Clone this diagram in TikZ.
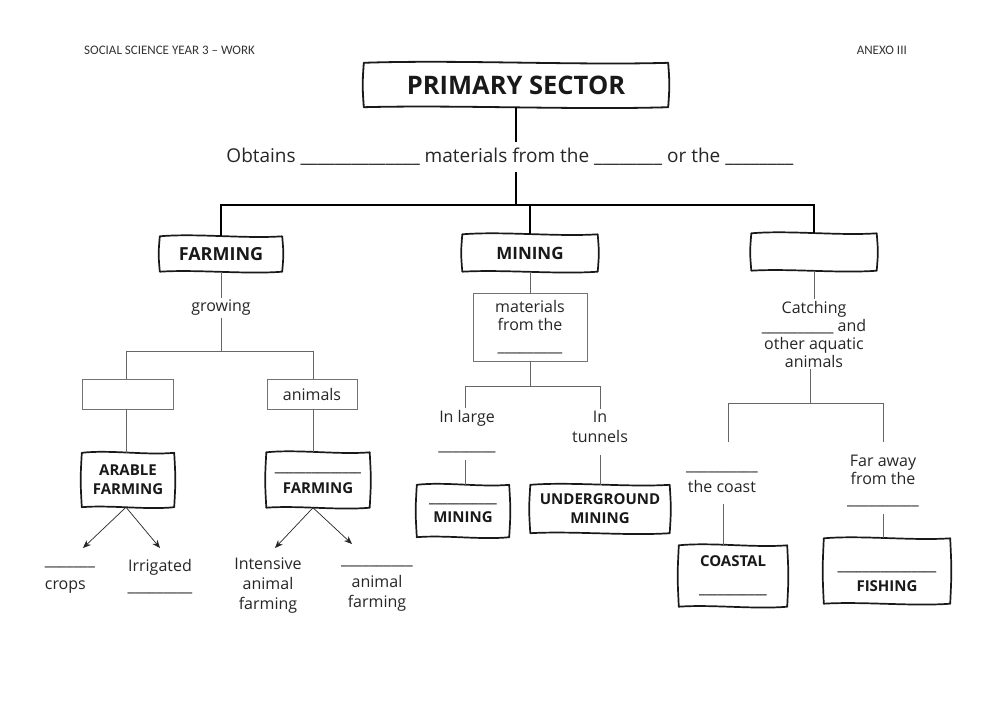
\documentclass[tikz,border=0pt]{standalone}
\usepackage{fontspec}
\setmainfont{Open Sans}
\newfontfamily\hdrfont{Carlito}
\usetikzlibrary{calc,arrows.meta}
\newcommand\ub[1]{\ifnum#1>0 \_\expandafter\ub\expandafter{\the\numexpr#1-1\relax}\fi}
\newcommand\wavy[2][1.7pt]{%
  \draw[line width=#1, draw=black!90, line join=round]
  (#2.north west) .. controls ($(#2.north west)!0.3!(#2.north east)+(0,-3.2)$) and ($(#2.north west)!0.7!(#2.north east)+(0,2.6)$) .. (#2.north east)
  .. controls ($(#2.north east)!0.5!(#2.south east)+(1.5,0)$) .. (#2.south east)
  .. controls ($(#2.south east)!0.3!(#2.south west)+(0,2.8)$) and ($(#2.south east)!0.7!(#2.south west)+(0,-2.4)$) .. (#2.south west)
  .. controls ($(#2.south west)!0.5!(#2.north west)+(-1.5,0)$) .. cycle;}
\begin{document}
\begin{tikzpicture}[x=1pt,y=-1pt,
  txt/.style={font=\fontsize{16}{20}\selectfont, text=black!85, align=center, inner sep=2pt},
  lbl/.style={font=\bfseries\fontsize{15}{19}\selectfont, text=black!90, align=center},
  biglbl/.style={font=\bfseries\fontsize{18}{21}\selectfont, text=black!90, align=center},
  hdr/.style={font=\hdrfont\fontsize{13}{15}\selectfont, text=black!80, inner sep=0pt},
  tbox/.style={draw=black!55, line width=0.9pt},
  mainln/.style={draw=black, line width=2.6pt},
  dropln/.style={draw=black, line width=1.8pt},
  thinln/.style={draw=black!60, line width=0.9pt},
  arr/.style={draw=black!85, line width=0.7pt, -{Stealth[length=8pt,width=6.5pt]}},
]
\fill[white] (0,0) rectangle (1000,707);
\useasboundingbox (0,0) rectangle (1000,707);

% header
\node[hdr, anchor=west] (hdrl) at (84,50) {SOCIAL SCIENCE YEAR 3 – WORK};
\node[hdr, anchor=east] (hdrr) at (907,50) {ANEXO III};

% top
\node[minimum width=304pt, minimum height=44pt,
      font=\bfseries\fontsize{25.5}{30}\selectfont, text=black!90] (primary) at (516,85) {PRIMARY SECTOR};
\wavy[1.8pt]{primary}
\node[txt, font=\fontsize{19}{22}\selectfont, inner ysep=6pt] (obtains) at (510,157) {Obtains \ub{14} materials from the \ub{8} or the \ub{8}};
\coordinate (bc) at (516,205);
\coordinate (busL) at (221,205);
\coordinate (busM) at (530,205);
\coordinate (busR) at (814,205);
\draw[mainln] (primary.south) -- (primary.south |- obtains.north);
\draw[mainln] (obtains.south -| bc) -- (bc);
\draw[mainln, line cap=rect] (busL) -- (busR);

\node[biglbl, minimum width=122pt, minimum height=35pt] (farming) at (221,254) {FARMING};
\node[biglbl, font=\bfseries\fontsize{17}{21}\selectfont, minimum width=135pt, minimum height=37pt] (mining) at (530,253) {MINING};
\node[minimum width=125pt, minimum height=37pt] (fishbox) at (814,252) {};
\wavy{farming}
\wavy{mining}
\wavy{fishbox}
\draw[dropln] (busL) -- (farming.north);
\draw[dropln] (busM) -- (mining.north);
\draw[dropln] (busR) -- (fishbox.north);

% farming branch
\node[txt] (growing) at (221,308) {growing};
\draw[thinln] (farming.south) -- (growing.north);
\coordinate (fbM) at (221,351);
\coordinate (fbL) at (126,351);
\coordinate (fbR) at (313,351);
\draw[thinln] (growing.south) -- (fbM);
\draw[thinln] (fbL) -- (fbR);
\node[tbox, minimum width=91pt, minimum height=30pt] (empty) at (128,394) {};
\node[tbox, txt, minimum width=90pt, minimum height=30pt] (animals) at (312,394) {animals};
\draw[thinln] (fbL) -- (fbL |- empty.north);
\draw[thinln] (fbR) -- (fbR |- animals.north);
\node[lbl, minimum width=92pt, minimum height=54pt] (arable) at (128,480) {ARABLE\\FARMING};
\node[lbl, minimum width=103pt, minimum height=55pt] (farm2) at (318,480) {};
\node[lbl] (farm2t) at (318,483) {\ub{14}\\[3pt]FARMING};
\wavy{arable}
\wavy{farm2}
\draw[thinln] (fbL |- empty.south) -- (fbL |- arable.north);
\draw[thinln] (fbR |- animals.south) -- (fbR |- farm2.north);

\coordinate (a1) at (83,548);
\coordinate (a2) at (160,548);
\coordinate (a3) at (275,548);
\coordinate (a4) at (352,544);
\draw[arr] (fbL |- arable.south) -- (a1);
\draw[arr] (fbL |- arable.south) -- (a2);
\draw[arr] (fbR |- farm2.south) -- (a3);
\draw[arr] (fbR |- farm2.south) -- (a4);

\node[txt, align=left] (crops) at (70,579) {\ub{7}\\[4pt]crops};
\node[txt] (irrig) at (160,577) {Irrigated\\\ub{9}};
\node[txt] (intens) at (268,586) {Intensive\\animal\\farming};
\node[txt] (extens) at (377,588) {\ub{10}\\[3pt]animal\\farming};

% mining branch
\node[tbox, txt, font=\fontsize{16}{18}\selectfont, minimum width=114pt, minimum height=68pt] (mat) at (530,327) {materials\\from the\\[3pt]\ub{9}};
\draw[thinln] (mining.south) -- (mat.north);
\coordinate (mbM) at (530,386);
\coordinate (mbL) at (465,386);
\coordinate (mbR) at (600,386);
\draw[thinln] (mat.south) -- (mbM);
\draw[thinln] (mbL) -- (mbR);
\node[txt] (inlarge) at (467,432) {In large\\[8pt]\ub{8}};
\node[txt] (tunnels) at (600,427) {In\\tunnels};
\draw[thinln] (mbL) -- (mbL |- inlarge.north);
\draw[thinln] (mbR) -- (mbR |- tunnels.north);
\node[lbl, minimum width=92pt, minimum height=52pt] (openpit) at (463,511) {};
\node[lbl] (openpitt) at (463,513) {\ub{11}\\[1pt]MINING};
\node[lbl, minimum width=139pt, minimum height=48pt] (undergr) at (600,509) {UNDERGROUND\\MINING};
\wavy{openpit}
\wavy{undergr}
\coordinate (ilb) at (465,460);
\draw[thinln] (ilb) -- (ilb |- openpit.north);
\draw[thinln, shorten <=10pt] (tunnels.south) -- (undergr.north);

% fishing branch
\node[txt, font=\fontsize{16}{18}\selectfont] (catching) at (814,334) {Catching\\\ub{10} and\\other aquatic\\animals};
\draw[thinln] (fishbox.south) -- (catching.north);
\coordinate (cbM) at (810,403);
\coordinate (cbL) at (728,403);
\coordinate (cbR) at (883,403);
\coordinate (cdL) at (728,442);
\coordinate (cdR) at (883,442);
\draw[thinln] (catching.south -| cbM) -- (cbM);
\draw[thinln] (cbL) -- (cbR);
\draw[thinln] (cbL) -- (cdL);
\draw[thinln] (cbR) -- (cdR);
\node[txt] (coast) at (722,482) {\ub{10}\\[2pt]the coast};
\node[txt, font=\fontsize{16}{18}\selectfont] (faraway) at (883,481) {Far away\\from the\\[2pt]\ub{10}};
\node[lbl, minimum width=108pt, minimum height=61pt] (coastal) at (733,576) {COASTAL\\[8pt]\ub{11}};
\node[lbl, minimum width=126pt, minimum height=65pt] (fishing) at (887,571) {};
\node[lbl] (fishingt) at (887,581) {\ub{16}\\[2pt]FISHING};
\wavy{coastal}
\wavy{fishing}
\coordinate (clt) at (723,504);
\coordinate (flt) at (883,514);
\draw[thinln] (clt) -- (clt |- coastal.north);
\draw[thinln] (flt) -- (flt |- fishing.north);
\end{tikzpicture}
\end{document}
